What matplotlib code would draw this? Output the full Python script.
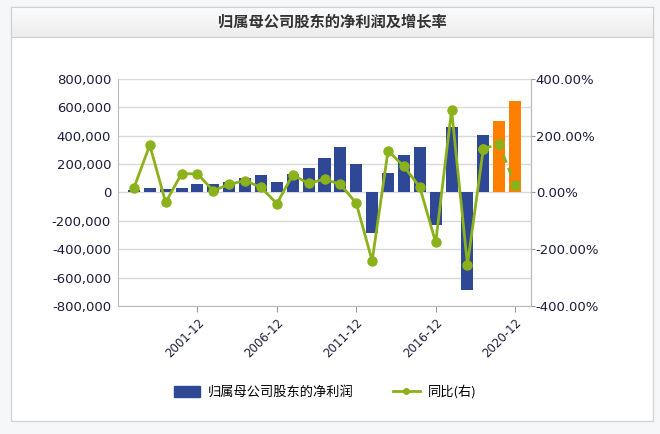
import numpy as np
import matplotlib
matplotlib.use("Agg")
import matplotlib.pyplot as plt
from matplotlib.patches import Rectangle
from matplotlib.lines import Line2D
from matplotlib.ticker import FuncFormatter, MultipleLocator

plt.rcParams['font.family'] = ['DejaVu Sans', 'Noto Sans CJK SC']

# data
periods = ["1997-12", "1998-12", "1999-12", "2000-12", "2001-12", "2002-12", "2003-12",
           "2004-12", "2005-12", "2006-12", "2007-12", "2008-12", "2009-12", "2010-12",
           "2011-12", "2012-12", "2013-12", "2014-12", "2015-12", "2016-12", "2017-12",
           "2018-12", "2019-12", "2020-09", "2020-12"]
shown_labels = ["2001-12", "2006-12", "2011-12", "2016-12", "2020-12"]
net_profit = [16000, 33000, 25000, 33000, 59000, 59000, 75000, 101000, 120000, 75000,
              127000, 171000, 246000, 324000, 204000, -282000, 136000, 263000, 324000,
              -230000, 460000, -690000, 408000, 502000, 648000]
growth_pct = [16, 167, -35, 66, 66, 6, 29, 42, 18, -39, 62, 32, 47, 29, -38, -241,
              147, 92, 19, -176, 291, -255, 155, 170, 26]
n_actual = 23  # last two bars drawn in orange with dashed growth line

NAVY = "#2e4895"
ORANGE = "#ff7f00"
GREEN = "#8bb11b"
TXT = "#1c1c3c"
W, H = 660, 434

fig = plt.figure(figsize=(W / 100, H / 100), dpi=100)
fig.patch.set_facecolor("#f6f7f9")

def px(x0, y0, x1, y1):
    return [x0 / W, 1 - y1 / H, (x1 - x0) / W, (y1 - y0) / H]

# outer panel and title bar
fig.patches.append(Rectangle((11 / W, 1 - 421 / H), 642 / W, 414 / H, transform=fig.transFigure,
                             facecolor="white", edgecolor="#d4d4d4", lw=1.0, zorder=-10))
tax = fig.add_axes(px(11, 7, 653, 37))
grad = np.linspace(0, 1, 50).reshape(-1, 1)
tax.imshow(grad, aspect="auto", cmap=matplotlib.colors.LinearSegmentedColormap.from_list(
    "g", ["#fcfcfc", "#ececec"]), extent=[0, 1, 0, 1])
tax.set_xticks([]); tax.set_yticks([])
for s in tax.spines.values():
    s.set_color("#d0d0d0")
tax.text(0.5, 0.5, "归属母公司股东的净利润及增长率", ha="center", va="center",
         fontsize=11, fontweight="bold", color="#333333", family=["Noto Sans CJK SC"])

ax = fig.add_axes(px(118, 79, 531, 306))
x = np.arange(len(periods))
colors = [NAVY if i < n_actual else ORANGE for i in range(len(periods))]
ax.bar(x, net_profit, width=0.76, color=colors, zorder=2)
ax.set_xlim(-1, len(periods))
ax.set_ylim(-800000, 800000)
ax.yaxis.set_major_locator(MultipleLocator(200000))
ax.yaxis.set_major_formatter(FuncFormatter(lambda v, p: f"{int(v):,}"))
ax.grid(axis="y", color="#d9d9d9", lw=1.0, zorder=0)
ax.set_axisbelow(True)
tick_pos = [periods.index(s) for s in shown_labels]
ax.set_xticks(tick_pos)
ax.set_xticklabels(shown_labels, rotation=45, ha="right", rotation_mode="anchor",
                   fontsize=8.5, color=TXT)
ax.tick_params(axis="x", length=4, color="#999999", pad=3)
ax.tick_params(axis="y", length=0, labelsize=9.5, labelcolor=TXT, pad=5)
ax.spines["top"].set_visible(False)
for s in ["left", "bottom", "right"]:
    ax.spines[s].set_color("#bbbbbb")

ax2 = ax.twinx()
ax2.set_ylim(-400, 400)
ax2.yaxis.set_major_locator(MultipleLocator(200))
ax2.yaxis.set_major_formatter(FuncFormatter(lambda v, p: f"{v:.2f}%"))
ax2.tick_params(axis="y", length=3, color="#999999", labelsize=9.5, labelcolor=TXT, pad=0.5)
ax2.spines["top"].set_visible(False)
ax2.spines["right"].set_color("#bbbbbb")
ax2.spines["left"].set_visible(False)
ax2.spines["bottom"].set_visible(False)
ax2.plot(x[:n_actual], growth_pct[:n_actual], color=GREEN, lw=2, marker="o", ms=6.5, zorder=3)
ax2.plot(x[n_actual - 1:], growth_pct[n_actual - 1:], color=GREEN, lw=2, ls=(0, (3, 2)),
         marker="o", ms=6.5, zorder=3)

handles = [Rectangle((0, 0), 1, 1, color=NAVY),
           Line2D([0], [0], color=GREEN, lw=2, marker="o", ms=4)]
fig.legend(handles, ["归属母公司股东的净利润", "同比(右)"], loc="center", ncol=2,
           bbox_to_anchor=(325 / W, 1 - 392 / H), frameon=False, handlelength=2.0,
           handleheight=0.9, columnspacing=3.0, handletextpad=0.6,
           prop={"family": ["Noto Sans CJK SC"], "size": 9.5})

fig.savefig("out.png", dpi=100, facecolor=fig.get_facecolor())
